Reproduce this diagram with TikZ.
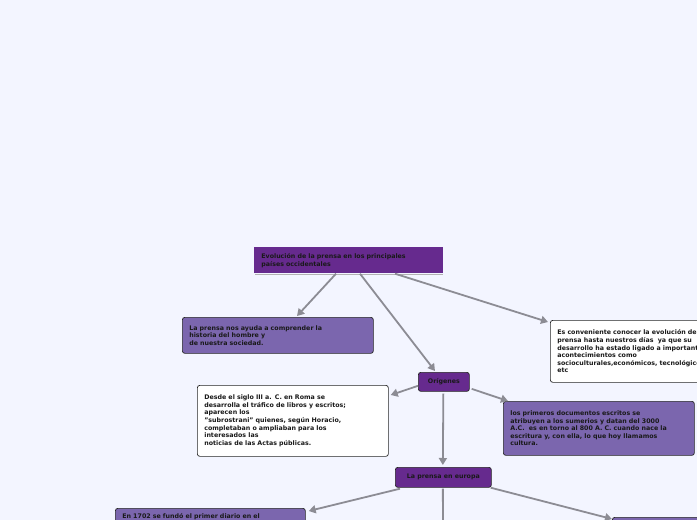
\documentclass[tikz,border=0pt]{standalone}
\usepackage{fontspec}
\setmainfont{DejaVu Sans}
\usetikzlibrary{arrows.meta,calc}
\definecolor{bg}{HTML}{F3F5FF}
\definecolor{dk}{HTML}{662A8E}
\definecolor{lt}{HTML}{7B66AE}
\definecolor{ar}{HTML}{8C8C94}
\tikzset{
 box/.style={draw=black!85,line width=0.7pt,rounded corners=2.5pt,anchor=north west,inner xsep=7pt,inner ysep=4pt,align=left,font=\fontsize{6.3}{7.6}\selectfont\bfseries,text=black!90},
 dbox/.style={box,fill=dk},
 lbox/.style={box,fill=lt},
 wbox/.style={box,fill=white},
 con/.style={draw=ar,line width=1.8pt,-{Triangle[length=7pt,width=8pt]}}
}
\begin{document}
\begin{tikzpicture}[x=1pt,y=-1pt]
\clip (0,0) rectangle (697,520);
\fill[bg] (0,0) rectangle (697,520);
\fill[black!30] (255,273.5) rectangle (443,275);
\node[dbox,draw=none,rounded corners=0pt,minimum width=189pt,minimum height=26pt,text width=175pt] (t) at (254,247) {Evolución de la prensa en los principales\\países occidentales};
\node[lbox,minimum width=191pt,minimum height=36pt,text width=177pt] (a) at (182,317) {La prensa nos ayuda a comprender la\\historia del hombre y\\de nuestra sociedad.};
\node[wbox,minimum width=210pt,minimum height=62pt,text width=196pt] (b) at (550,320) {Es conveniente conocer la evolución de la\\prensa hasta nuestros días \ ya que su\\desarrollo ha estado ligado a importantes\\acontecimientos como\\socioculturales,económicos, tecnológicos,\\etc};
\node[dbox,minimum width=51pt,minimum height=19pt,inner xsep=2pt,align=center] (o) at (418,372) {Orígenes};
\node[wbox,minimum width=191pt,minimum height=71pt,text width=177pt] (c) at (197,385) {Desde el siglo III a. C. en Roma se\\desarrolla el tráfico de libros y escritos;\\aparecen los\\"subrostrani" quienes, según Horacio,\\completaban o ampliaban para los\\interesados las\\noticias de las Actas públicas.};
\node[lbox,minimum width=191pt,minimum height=54pt,text width=177pt] (d) at (503,401) {los primeros documentos escritos se\\atribuyen a los sumerios y datan del 3000\\A.C. \ es en torno al 800 A. C. cuando nace la\\escritura y, con ella, lo que hoy llamamos\\cultura.};
\node[dbox,minimum width=96pt,minimum height=20pt,align=center] (e) at (395,467) {La prensa en europa};
\node[lbox,minimum width=190pt,minimum height=30pt,text width=176pt,inner ysep=5pt,text depth=20pt] (f) at (115,508) {En 1702 se fundó el primer diario en el};
\node[lbox,minimum width=120pt,minimum height=30pt] (g) at (612,517) {};
\coordinate (bot) at (443,530);
\draw[con] ($(t.south west)+(82,0)$) -- ($(a.north west)+(115,-1)$);
\draw[con] ($(t.south west)+(106,0)$) -- ($(o.north west)+(17,-1)$);
\draw[con] ($(t.south west)+(141,0)$) -- ($(b.north west)+(-2,2)$);
\draw[con] ($(o.west)+(0,4)$) -- ($(c.north east)+(2,10)$);
\draw[con] ($(o.east)+(2,7)$) -- ($(d.north west)+(5,0)$);
\draw[con] ($(o.south)+(-0.5,2)$) -- ($(e.north)+(-0.5,-2)$);
\draw[con] ($(e.south west)+(5,1)$) -- ($(f.north east)+(3,3)$);
\draw[draw=ar,line width=1.8pt] ($(e.south)+(-0.5,1)$) -- (bot);
\draw[con] ($(e.south east)+(-1,0)$) -- ($(g.north west)+(0,2)$);
\end{tikzpicture}
\end{document}
